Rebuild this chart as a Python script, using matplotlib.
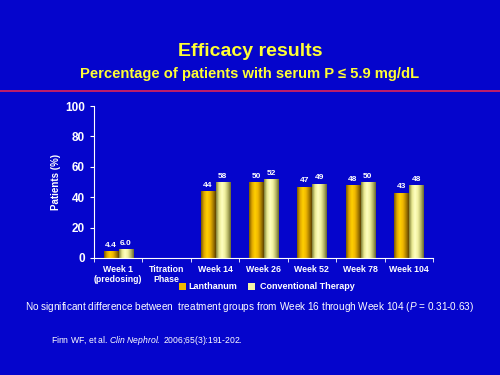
import numpy as np
import matplotlib
matplotlib.use('Agg')
import matplotlib.pyplot as plt
from matplotlib.patches import Rectangle
from matplotlib.colors import LinearSegmentedColormap

plt.rcParams['font.family'] = ['Liberation Sans', 'DejaVu Sans']
plt.rcParams['mathtext.fontset'] = 'custom'
plt.rcParams['mathtext.it'] = 'Liberation Sans:italic'
plt.rcParams['mathtext.rm'] = 'Liberation Sans'

# data
weeks = ['Week 1\n(predosing)', 'Titration\nPhase', 'Week 14', 'Week 26',
         'Week 52', 'Week 78', 'Week 104']
lanthanum = [4.4, None, 44, 50, 47, 48, 43]
conventional = [6.0, None, 50, 52, 49, 50, 48]
lan_labels = ['4.4', '', '44', '50', '47', '48', '43']
conv_labels = ['6.0', '', '58', '52', '49', '50', '48']

bg = '#0505cc'
fig = plt.figure(figsize=(5, 3.75), dpi=100, facecolor=bg)

fig.text(0.5, 0.864, 'Efficacy results', ha='center', va='center',
         color='#ffff33', fontsize=14, fontweight='bold')
fig.text(0.5, 0.803, 'Percentage of patients with serum P \u2264 5.9 mg/dL',
         ha='center', va='center', color='#ffff33', fontsize=10.6, fontweight='bold')
fig.add_artist(plt.Line2D([0, 1], [0.757, 0.757], color='#d02060', lw=1.3))

ax = fig.add_axes([0.188, 0.312, 0.678, 0.405])
ax.set_facecolor(bg)

gold = LinearSegmentedColormap.from_list('g', ['#7a5a00', '#e0a800', '#ffd000', '#f0b800', '#b08400', '#604400'])
pale = LinearSegmentedColormap.from_list('p', ['#80803a', '#e8e890', '#ffffc0', '#f0f0a0', '#b8b868', '#6a6a30'])
grad = np.linspace(0, 1, 64).reshape(1, -1)

w = 0.29
x = np.arange(len(weeks))

def bar(xc, h, cmap, lab):
    if h is None:
        return
    rect = Rectangle((xc - w / 2, 0), w, h, facecolor='none', edgecolor='none')
    ax.add_patch(rect)
    im = ax.imshow(grad, cmap=cmap, aspect='auto', extent=(xc - w / 2, xc + w / 2, 0, h),
                   zorder=2)
    im.set_clip_path(rect)
    ax.text(xc, h + 1.5, lab, ha='center', va='bottom', color='white',
            fontsize=6, fontweight='bold')

for i in x:
    bar(i - w / 2 - 0.01, lanthanum[i], gold, lan_labels[i])
    bar(i + w / 2 + 0.01, conventional[i], pale, conv_labels[i])

ax.set_xlim(-0.5, len(weeks) - 0.5)
ax.set_ylim(0, 100)
ax.set_yticks(range(0, 101, 20))
ax.set_xticks(x)
ax.set_xticklabels(weeks)
ax.set_xticks(np.arange(-0.5, len(weeks), 1), minor=True)
ax.tick_params(axis='x', which='major', length=0, pad=5, labelsize=6.3,
               labelcolor='white')
ax.tick_params(axis='x', which='minor', length=3, color='white', direction='out')
ax.tick_params(axis='y', length=3, color='white', labelcolor='white', labelsize=8.5)
for t in ax.get_xticklabels() + ax.get_yticklabels():
    t.set_fontweight('bold')
for s in ['top', 'right']:
    ax.spines[s].set_visible(False)
for s in ['left', 'bottom']:
    ax.spines[s].set_color('white')
    ax.spines[s].set_linewidth(0.8)
ax.set_ylabel('Patients (%)', color='white', fontsize=7, fontweight='bold', labelpad=3)

# legend
fig.add_artist(Rectangle((0.357, 0.226), 0.014, 0.019, transform=fig.transFigure,
                         facecolor='#f0b800', edgecolor='none'))
fig.text(0.377, 0.235, 'Lanthanum', color='white', fontsize=6.5, fontweight='bold',
         va='center')
fig.add_artist(Rectangle((0.496, 0.226), 0.014, 0.019, transform=fig.transFigure,
                         facecolor='#f4f4a8', edgecolor='none'))
fig.text(0.519, 0.235, 'Conventional Therapy', color='white', fontsize=6.5,
         fontweight='bold', va='center')

fig.text(0.5, 0.18, 'No significant difference between  treatment groups from Week 16 '
         'through Week 104 ($P$ = 0.31-0.63)', ha='center', va='center',
         color='white', fontsize=7.2)
fig.text(0.102, 0.093, 'Finn WF, et al. $Clin\\ Nephrol.$ 2006;65(3):191-202.',
         color='white', fontsize=6.2, va='center')

fig.savefig('out.png', dpi=100, facecolor=bg)
